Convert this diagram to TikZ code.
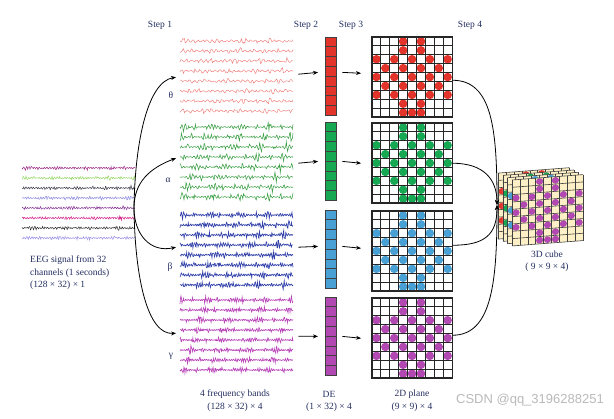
\documentclass[tikz,border=0pt]{standalone}
\usepackage{fontspec}
\setmainfont{Liberation Serif}
\newfontfamily\wmfont{Liberation Sans}
\usetikzlibrary{arrows.meta}
\definecolor{txt}{RGB}{35,45,95}
\definecolor{cRed}{RGB}{226,52,42}
\definecolor{cGreen}{RGB}{22,168,82}
\definecolor{cBlue}{RGB}{72,160,212}
\definecolor{cMag}{RGB}{178,72,178}
\definecolor{cream}{RGB}{253,240,198}
\definecolor{wRed}{RGB}{240,125,120}
\definecolor{wGreen}{RGB}{60,160,70}
\definecolor{wBlue}{RGB}{50,65,170}
\definecolor{wMag}{RGB}{185,70,185}
\definecolor{lA}{RGB}{160,48,138}
\definecolor{lB}{RGB}{150,215,100}
\definecolor{lC}{RGB}{60,60,75}
\definecolor{lD}{RGB}{140,140,225}
\definecolor{lE}{RGB}{140,58,155}
\definecolor{lF}{RGB}{212,38,138}
\definecolor{lG}{RGB}{50,50,50}
\definecolor{lH}{RGB}{155,145,232}
\definecolor{wm}{RGB}{185,185,185}
\def\elist{0/3,0/5,1/3,1/5,2/0,2/2,2/4,2/6,2/8,3/1,3/3,3/5,3/7,4/0,4/2,4/4,4/6,4/8,5/1,5/3,5/5,5/7,6/0,6/2,6/4,6/6,6/8,7/3,7/5,8/3,8/4,8/5}
% #1 x0, #2 y0, #3 width, #4 amplitude, #5 samples, #6 phase, #7 style, #8 baseline share, #9 carrier/100 (deg per pt /100)
\newcommand{\eegline}[9]{%
  \draw[#7] plot[domain=0:#3, samples=#5, variable=\t]
    ({#1+\t},{#2+#4*(#8+(1-#8)*((0.5+0.5*sin(\t*13+#6))^6+(0.5+0.5*sin(\t*29+2*#6))^8))*(0.7*sin(100*mod(\t*#9,3.6)+#6+60*rand)+0.3*rand)});}
\newcommand{\plane}[4]{%
  \begin{scope}[shift={(#2,#3)}]
    \foreach \r/\c in \elist {\fill[#4] ({(\c+0.5)*8.9},{(\r+0.5)*8.9}) circle[radius=4.3];}
    \foreach \i in {0,...,9} {\draw[gridln] ({\i*8.9},0) -- ({\i*8.9},80.1);
                              \draw[gridln] (0,{\i*8.9}) -- (80.1,{\i*8.9});}
    \draw[gridout] (0,0) rectangle (80.1,80.1);
  \end{scope}
  \node[minimum width=80.1pt, minimum height=80.1pt, inner sep=0, anchor=north west] (#1) at (#2,#3) {};}
\newcommand{\decol}[4]{%
  \foreach \k in {0,...,7} {\draw[decell, fill=#4] (#2,{#3+\k*9.8}) rectangle ++(11,9.8);}
  \node[minimum width=11pt, minimum height=78.4pt, inner sep=0, anchor=north west] (#1) at (#2,#3) {};}
\newcommand{\cubelayer}[3]{%
  \begin{scope}[shift={(#1,#2)}, x={(7.9pt,0.6pt)}, y={(0pt,-7.33pt)}]
    \fill[cream] (0,0) -- (9,0) -- (9,9) -- (0,9) -- cycle;
    \foreach \r/\c in \elist {\fill[#3] (\c+0.5,\r+0.5) circle[radius=0.46];}
    \foreach \i in {0,...,9} {\draw[cubeln] (\i,0) -- (\i,9); \draw[cubeln] (0,\i) -- (9,\i);}
  \end{scope}}
\begin{document}
\begin{tikzpicture}[x=1pt, y=-1pt,
  lbl/.style={text=txt, font=\fontsize{9.5}{11}\selectfont, inner sep=0},
  conn/.style={line width=0.8pt, -{Stealth[length=5pt, width=4pt]}},
  gridln/.style={line width=0.9pt, black!85},
  gridout/.style={line width=1.2pt, black!85},
  decell/.style={line width=0.8pt, black!75},
  cubeln/.style={line width=0.6pt, black!75},
  bandbox/.style={minimum width=113pt, minimum height=80pt, inner sep=0, anchor=north west}]
\useasboundingbox (0,0) rectangle (614,419);
\pgfmathsetseed{7}
% ---------- input EEG ----------
\foreach \col [count=\n from 0] in {lA,lB,lC,lD,lE,lF,lG,lH} {
  \eegline{22}{168+\n*10}{113}{2.0}{200}{\n*47}{\col, line width=0.5pt}{0.45}{1.4}
}
\node[minimum width=113pt, minimum height=80pt, inner sep=0] (src0) at (78.5,203) {};
\coordinate (src) at (134,208);
\node[lbl, anchor=west] (t1) at (30,260) {EEG signal from 32};
\node[lbl, anchor=west] (t2) at (30,273) {channels (1 seconds)};
\node[lbl, anchor=west] (t3) at (30,285) {(128 × 32) × 1};
% ---------- frequency bands ----------
\foreach \n in {0,...,7} {
  \eegline{180}{41+\n*10}{113}{2.7}{130}{\n*61}{wRed, line width=0.45pt}{0.4}{0.75}
  \eegline{180}{127+\n*10}{113}{4.0}{170}{\n*53+20}{wGreen, line width=0.55pt}{0.15}{1.1}
  \eegline{180}{215+\n*10}{113}{3.4}{220}{\n*71+40}{wBlue, line width=0.65pt}{0.3}{1.5}
  \eegline{180}{300+\n*10}{113}{3.0}{230}{\n*43+80}{wMag, line width=0.65pt}{0.25}{1.6}
}
\node[bandbox] (b1) at (180,37) {};
\node[bandbox] (b2) at (180,123) {};
\node[bandbox] (b3) at (180,210) {};
\node[bandbox] (b4) at (180,296) {};
\node[lbl] (lt) at (171,95) {θ};
\node[lbl] (la) at (168,180) {α};
\node[lbl] (lb) at (170,267) {β};
\node[lbl] (lg) at (171,356) {γ};
\draw[conn] (src) .. controls (135,140) and (148,82) .. ([xshift=-4pt]b1.west);
\draw[conn] (src) .. controls (134,182) and (150,168) .. ([xshift=-4pt,yshift=5pt]b2.west);
\draw[conn] (src) .. controls (134,234) and (150,253) .. ([xshift=-4pt,yshift=3pt]b3.west);
\draw[conn] (src) .. controls (135,280) and (148,335) .. ([xshift=-4pt,yshift=3pt]b4.west);
% ---------- DE ----------
\decol{d1}{325}{37}{cRed}
\decol{d2}{325}{122}{cGreen}
\decol{d3}{325}{210}{cBlue}
\decol{d4}{325}{297}{cMag}
\draw[conn] ([xshift=5pt,yshift=3pt]b1.east) -- ([xshift=-7pt,yshift=4pt]d1.west);
\draw[conn] ([xshift=5pt]b2.east) -- ([xshift=-7pt]d2.west);
\draw[conn] ([xshift=5pt,yshift=3pt]b3.east) -- ([xshift=-7pt,yshift=3pt]d3.west);
\draw[conn] ([xshift=5pt]b4.east) -- ([xshift=-7pt]d4.west);
% ---------- 2D planes ----------
\plane{g1}{372}{37}{cRed}
\plane{g2}{372}{123}{cGreen}
\plane{g3}{372}{211}{cBlue}
\plane{g4}{372}{298}{cMag}
\draw[conn] ([xshift=6pt,yshift=4pt]d1.east) -- ([xshift=-11pt,yshift=4pt]g1.west);
\draw[conn] ([xshift=6pt]d2.east) -- ([xshift=-11pt]g2.west);
\draw[conn] ([xshift=6pt,yshift=3pt]d3.east) -- ([xshift=-11pt,yshift=3pt]g3.west);
\draw[conn] ([xshift=6pt]d4.east) -- ([xshift=-11pt]g4.west);
% ---------- 3D cube ----------
\cubelayer{498.2}{173.1}{cRed}
\cubelayer{502.8}{175.4}{cGreen}
\cubelayer{507.4}{177.7}{cBlue}
\cubelayer{512}{180}{cMag}
\node[minimum width=85pt, minimum height=75pt, inner sep=0, anchor=north west] (cube) at (498,172) {};
\coordinate (cubein) at (497,205);
\draw[conn] ([yshift=-3pt]g1.east) .. controls +(40,0) and +(0,-75) .. (cubein);
\draw[conn] (g2.east) .. controls +(32,0) and +(0,-25) .. (cubein);
\draw[conn] ([yshift=6pt]g3.east) .. controls +(32,0) and +(0,30) .. (cubein);
\draw[conn] ([yshift=3pt]g4.east) .. controls +(40,0) and +(0,75) .. (cubein);
% ---------- labels ----------
\node[lbl] (s1) at (160,25) {Step 1};
\node[lbl] (s2) at (306,25) {Step 2};
\node[lbl] (s3) at (351,25) {Step 3};
\node[lbl] (s4) at (470,25) {Step 4};
\node[lbl] (f1) at (235,394) {4 frequency bands};
\node[lbl] (f2) at (235,407) {(128 × 32) × 4};
\node[lbl] (e1) at (329,394) {DE};
\node[lbl] (e2) at (329,407) {(1 × 32) × 4};
\node[lbl] (p1) at (412,394) {2D plane};
\node[lbl] (p2) at (412,407) {(9 × 9) × 4};
\node[lbl] (c1) at (547,254) {3D cube};
\node[lbl] (c2) at (547,267) {( 9 × 9 × 4)};
\node[text=wm, font=\wmfont\fontsize{13}{14}\selectfont, inner sep=0, anchor=east] (wmk) at (604,400) {CSDN @qq\_3196288251};
\end{tikzpicture}
\end{document}
